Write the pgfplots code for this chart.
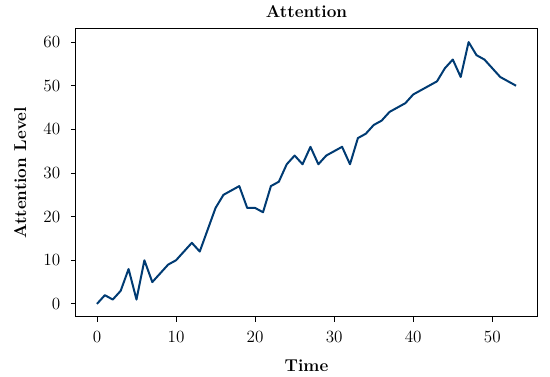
\documentclass[border=0pt]{standalone}
\usepackage{pgfplots}
\pgfplotsset{compat=1.18}
\definecolor{linec}{RGB}{0,59,115}
\begin{document}
\begin{tikzpicture}[font=\fontsize{12}{14}\selectfont]
\begin{axis}[
  scale only axis,
  width=322.7pt, height=201.6pt,
  at={(0,0)}, anchor=south west,
  xmin=-2.65, xmax=55.65, ymin=-3, ymax=63,
  xtick={0,10,20,30,40,50}, ytick={0,10,20,30,40,50,60},
  tick align=outside, tick pos=left,
  major tick length=3.5pt,
  tick style={black, line width=0.6pt},
  axis line style={line width=0.7pt},
  ticklabel style={font=\fontsize{12}{14}\selectfont},
  yticklabel style={xshift=-4pt},
  xticklabel style={yshift=-3pt},
  title={\textbf{Attention}},
  title style={at={(axis description cs:0.5,1.0)}, anchor=center, yshift=6pt, font=\fontsize{12}{14}\selectfont},
  xlabel={\textbf{Time}},
  xlabel style={at={(axis description cs:0.5,-0.169)}, anchor=center, font=\fontsize{12}{14}\selectfont},
  ylabel={\textbf{Attention Level}},
  ylabel style={at={(axis description cs:-0.121,0.5)}, anchor=center, font=\fontsize{12}{14}\selectfont},
]
\addplot[linec, line width=1.4pt, line join=round] coordinates {
(0,0) (1,2) (2,1) (3,3) (4,8) (5,1) (6,10) (7,5) (8,7) (9,9)
(10,10) (11,12) (12,14) (13,12) (14,17) (15,22) (16,25) (17,26) (18,27) (19,22)
(20,22) (21,21) (22,27) (23,28) (24,32) (25,34) (26,32) (27,36) (28,32) (29,34)
(30,35) (31,36) (32,32) (33,38) (34,39) (35,41) (36,42) (37,44) (38,45) (39,46)
(40,48) (41,49) (42,50) (43,51) (44,54) (45,56) (46,52) (47,60) (48,57) (49,56)
(50,54) (51,52) (52,51) (53,50)
};
\end{axis}
\pgfresetboundingbox
\path[use as bounding box] (-53.2pt,-42pt) rectangle (331.8pt,221.9pt);
\end{tikzpicture}
\end{document}
